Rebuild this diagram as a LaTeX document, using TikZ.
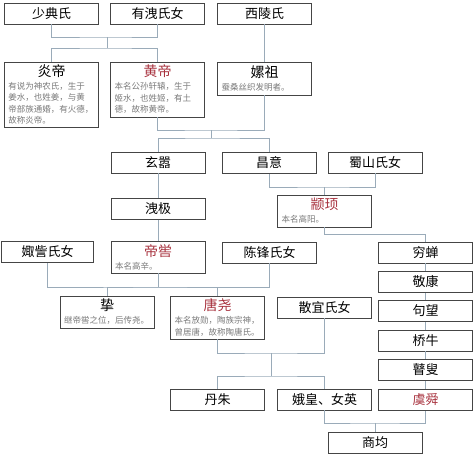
\documentclass[tikz,border=0pt]{standalone}
\usepackage{fontspec}
\setmainfont{Noto Sans CJK SC}
\usepackage{xcolor}
\usepackage{tikz}
\usetikzlibrary{positioning,calc}
\definecolor{boxline}{HTML}{454545}
\definecolor{linkline}{HTML}{9AABB9}
\definecolor{namered}{HTML}{A8323E}
\definecolor{notegray}{HTML}{7A7A7A}
\newcommand{\titlefont}{\fontsize{14}{16}\selectfont}
\newcommand{\entry}[3][black]{\makebox[86pt]{\titlefont\color{#1}#2}\\[1.5pt]#3}

\begin{document}
\begin{tikzpicture}[x=1pt, y=-1pt,
  namebox/.style={draw=boxline, line width=0.9pt, fill=white, minimum width=94pt, minimum height=21pt, inner sep=0pt, font=\fontsize{13}{15}\selectfont},
  notebox/.style={draw=boxline, line width=0.9pt, fill=white, minimum width=94pt, text width=86pt, align=left, inner xsep=4pt, inner ysep=2pt, font=\fontsize{8.5}{11.5}\selectfont, text=notegray},
  link/.style={draw=linkline, line width=0.8pt}]
  \useasboundingbox (0,0) rectangle (474,455);

  % Shaodian, Youxi, Xiling
  \node[namebox] (shaodian) at (51.5, 13.5) {少典氏};
  \node[namebox] (youxi) at (157.5, 13.5) {有洩氏女};
  \node[namebox] (xiling) at (264.5, 13.5) {西陵氏};

  % Yan Di, Huang Di, Lei Zu
  \node[notebox, minimum height=65pt] (yandi) at (51.5, 94.5) {\entry{炎帝}{有说为神农氏，生于\\姜水，也姓姜，与黄\\帝部族通婚，有火德，\\故称炎帝。}};
  \node[notebox, minimum height=55pt] (huangdi) at (157.5, 89.5) {\entry[namered]{黄帝}{本名公孙轩辕，生于\\姬水，也姓姬，有土\\德，故称黄帝。}};
  \node[notebox, minimum height=33pt] (leizu) at (264.5, 78.5) {\entry{嫘祖}{蚕桑丝织发明者。}};

  % Xuanxiao, Changyi, Shushan
  \node[namebox] (xuanxiao) at (158, 162.5) {玄嚣};
  \node[namebox] (changyi) at (269, 163) {昌意};
  \node[namebox] (shushan) at (375, 162.5) {蜀山氏女};
  \node[notebox, minimum height=32pt] (zhuanxu) at (324.5, 211) {\entry[namered]{颛顼}{本名高阳。}};
  \node[namebox] (xiaoji) at (158, 209) {洩极};

  % Di Ku and his wives
  \node[namebox, minimum width=92pt] (jusi) at (47.5, 252) {娵訾氏女};
  \node[notebox, minimum height=32pt] (diku) at (158, 257) {\entry[namered]{帝喾}{本名高辛。}};
  \node[namebox] (chenfeng) at (269.5, 252.5) {陈锋氏女};
  \node[notebox, minimum height=32pt] (zhi) at (107, 312) {\entry{挚}{继帝喾之位，后传尧。}};
  \node[notebox, minimum height=43pt] (tangyao) at (217.5, 317.5) {\entry[namered]{唐尧}{本名放勋，陶族宗神，\\曾居唐，故称陶唐氏。}};
  \node[namebox] (sanyi) at (324.5, 307.5) {散宜氏女};

  % Line down to Yu Shun
  \node[namebox] (qiongchan) at (425.5, 252.5) {穷蝉};
  \node[namebox] (jingkang) at (425.5, 282) {敬康};
  \node[namebox] (gouwang) at (425.5, 311) {句望};
  \node[namebox] (qiaoniu) at (425.5, 340.5) {桥牛};
  \node[namebox] (gusou) at (425.5, 370) {瞽叟};
  \node[namebox, text=namered] (yushun) at (425.5, 400) {虞舜};

  % Last generation
  \node[namebox] (danzhu) at (217.5, 399.5) {丹朱};
  \node[namebox] (ehuang) at (324.5, 399.5) {娥皇、女英};
  \node[namebox] (shangjun) at (375, 443) {商均};

  % Junctions
  \coordinate (j1) at (107, 37);
  \coordinate (j2) at (107, 48);
  \coordinate (j3) at (211, 130);
  \coordinate (j4) at (211, 138);
  \coordinate (j5) at (324.5, 187);
  \coordinate (j6) at (158, 287);
  \coordinate (j8) at (271, 353);
  \coordinate (j9) at (271, 376);
  \coordinate (j10) at (375, 423);

  \draw[link] (shaodian.south) |- (j1) -| (youxi.south);
  \draw[link] (j1) -- (j2);
  \draw[link] (yandi.north) |- (j2) -| (huangdi.north);
  \draw[link] (xiling) -- (leizu);
  \draw[link] (huangdi.south) |- (j3) -| (leizu.south);
  \draw[link] (j3) -- (j4);
  \draw[link] (xuanxiao.north) |- (j4) -| (changyi.north);
  \draw[link] (changyi.south) |- (j5) -| (shushan.south);
  \draw[link] (j5) -- (zhuanxu);
  \draw[link] (xuanxiao) -- (xiaoji);
  \draw[link] (xiaoji) -- (diku);
  \draw[link] (jusi.south) |- (j6) -| (chenfeng.south);
  \draw[link] (diku) -- (j6);
  \draw[link] (zhi.north) |- (j6) -| (tangyao.north);
  \draw[link] (zhuanxu.south) -- ++(0,7) -| (qiongchan.north);
  \draw[link] (qiongchan) -- (jingkang);
  \draw[link] (jingkang) -- (gouwang);
  \draw[link] (gouwang) -- (qiaoniu);
  \draw[link] (qiaoniu) -- (gusou);
  \draw[link] (gusou) -- (yushun);
  \draw[link] (tangyao.south) |- (j8) -| (sanyi.south);
  \draw[link] (j8) -- (j9);
  \draw[link] (danzhu.north) |- (j9) -| (ehuang.north);
  \draw[link] (ehuang.south) |- (j10) -| (yushun.south);
  \draw[link] (j10) -- (shangjun);
\end{tikzpicture}
\end{document}
